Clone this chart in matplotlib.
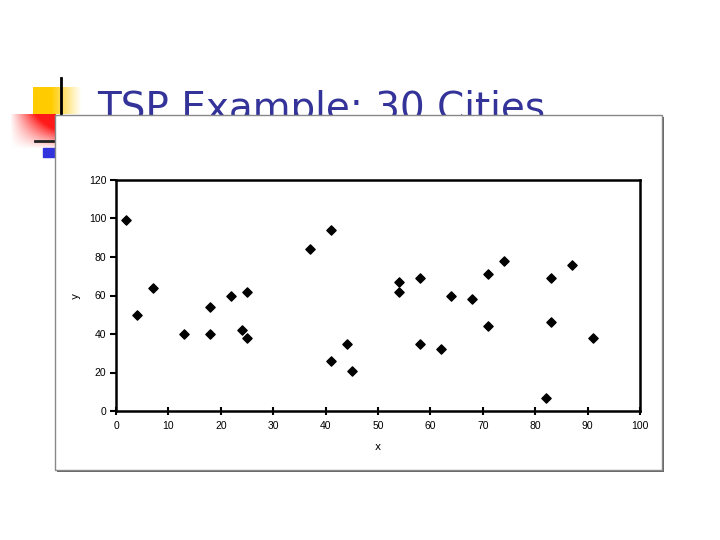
import matplotlib.pyplot as plt
import numpy as np
from matplotlib.patches import Rectangle

# city coordinates
city_x = [2, 4, 7, 13, 18, 18, 22, 25, 24, 25, 37, 41, 41, 44, 45,
          54, 54, 58, 58, 62, 64, 68, 71, 71, 74, 82, 83, 83, 87, 91]
city_y = [99, 50, 64, 40, 54, 40, 60, 62, 42, 38, 84, 94, 26, 35, 21,
          67, 62, 69, 35, 32, 60, 58, 71, 44, 78, 7, 69, 46, 76, 38]

x_ticks = [0, 10, 20, 30, 40, 50, 60, 70, 80, 90, 100]
y_ticks = [0, 20, 40, 60, 80, 100, 120]

W, H = 720, 540
fig = plt.figure(figsize=(7.2, 5.4), dpi=100)
fig.patch.set_facecolor("white")

def fx(px):
    return px / W

def fy(py):
    return 1 - py / H

# background layer for slide decoration
bg = fig.add_axes([0, 0, 1, 1], zorder=0)
bg.set_xlim(0, W)
bg.set_ylim(H, 0)
bg.axis("off")

# yellow square fading to the right
g = np.linspace(0, 1, 64)
alpha_y = np.clip((1 - g) * 1.6, 0, 1)
yel = np.zeros((2, 64, 4))
yel[..., 0] = 1.0
yel[..., 1] = 0.8
yel[..., 2] = 0.0
yel[..., 3] = alpha_y
bg.imshow(yel, extent=(33, 82, 114, 87), aspect="auto", interpolation="bilinear")

# red square fading to the left / bottom
gx, gy = np.meshgrid(np.linspace(0, 1, 64), np.linspace(0, 1, 64))
red = np.zeros((64, 64, 4))
red[..., 0] = 1.0
red[..., 1] = 0.1
red[..., 2] = 0.1
red[..., 3] = np.clip(gx * (1 - gy) * 1.8, 0, 1)
bg.imshow(red, extent=(10, 56, 149, 114), aspect="auto", interpolation="bilinear")

bg.plot([61, 61], [78, 115], color="black", lw=2)
bg.plot([35, 56], [141, 141], color="#222222", lw=2)
bg.add_patch(Rectangle((43, 148), 13, 9, color="#3333dd"))

# title, partly hidden by the chart box
bg.text(97, 120, "TSP Example: 30 Cities", color="#333399",
        fontsize=28, family="DejaVu Sans", va="baseline", ha="left")

# chart box with shadow
bg.add_patch(Rectangle((57, 117), 607, 355, facecolor="#666666",
                       edgecolor="none", zorder=3))
bg.add_patch(Rectangle((55, 115), 607, 355, facecolor="white",
                       edgecolor="#888888", lw=1, zorder=4))

# scatter plot
ax = fig.add_axes([fx(116), fy(411), fx(640) - fx(116), fy(180) - fy(411)],
                  zorder=2)
ax.patch.set_alpha(0)
ax.scatter(city_x, city_y, marker="D", s=22, color="black", zorder=3)
ax.set_xlim(0, 100)
ax.set_ylim(0, 120)
ax.set_xticks(x_ticks)
ax.set_yticks(y_ticks)
for sp in ax.spines.values():
    sp.set_linewidth(1.8)
    sp.set_color("black")
ax.tick_params(axis="x", direction="inout", length=6, width=1.5,
               labelsize=7.5, pad=4)
ax.tick_params(axis="y", direction="out", length=4, width=1.5,
               labelsize=7.5, pad=3)
ax.set_xlabel("x", fontsize=7.5, labelpad=8)
ax.set_ylabel("y", fontsize=7.5, labelpad=6)
for lab in ax.get_xticklabels() + ax.get_yticklabels():
    lab.set_family("Liberation Sans")

fig.savefig("out.png", dpi=100)
